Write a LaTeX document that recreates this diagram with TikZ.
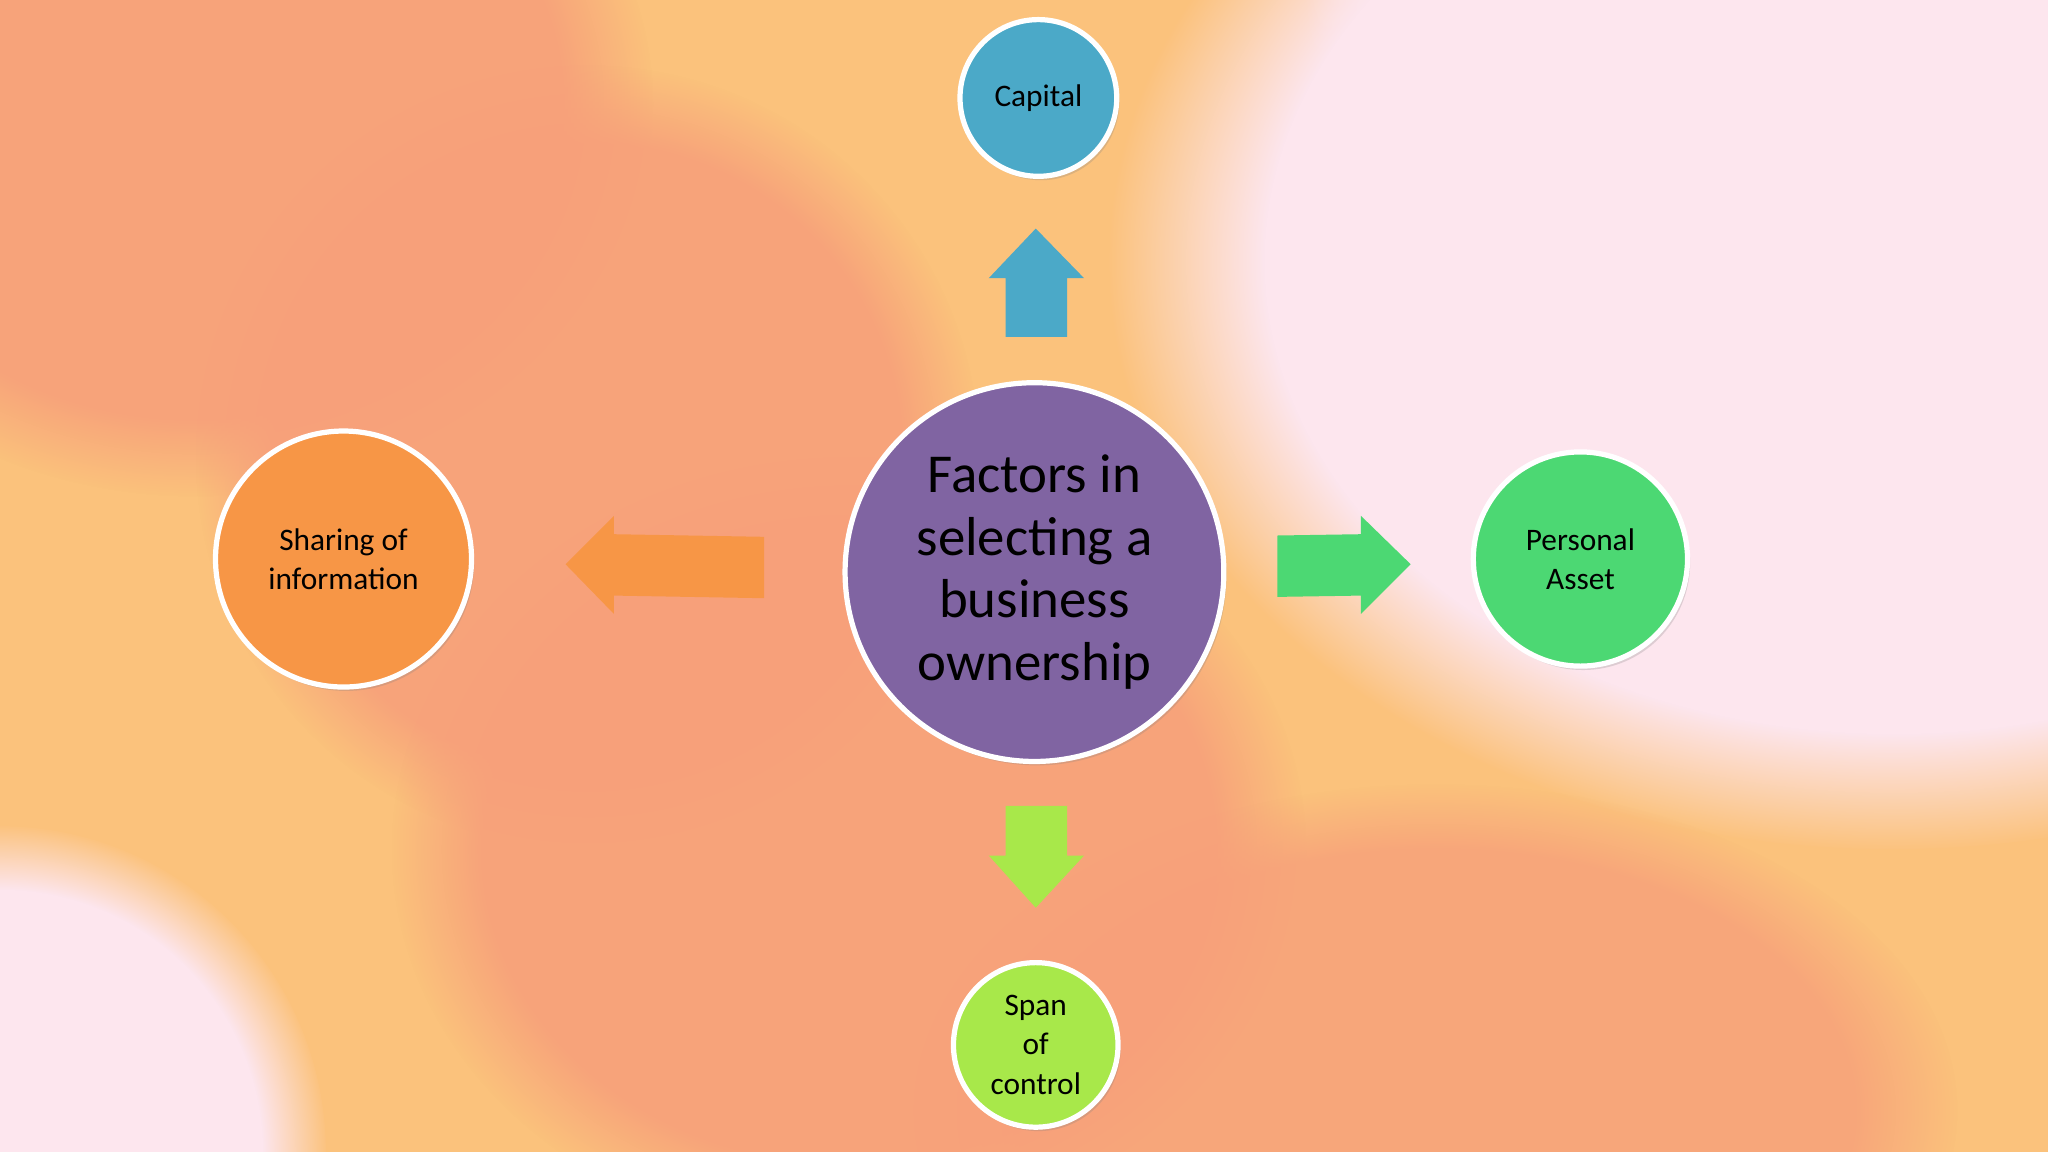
\documentclass[tikz,border=0pt]{standalone}
\usepackage{fontspec}
\setmainfont{Carlito}
\usetikzlibrary{shadows,fadings}
\definecolor{cblue}{HTML}{4BA9C8}
\definecolor{cpurple}{HTML}{8064A2}
\definecolor{corange}{HTML}{F79646}
\definecolor{cgreen}{HTML}{4CD873}
\definecolor{clime}{HTML}{A8E84A}
\definecolor{bgA}{HTML}{F7A07A}
\definecolor{bgB}{HTML}{FBC27C}
\definecolor{bgC}{HTML}{FDE6EE}
\tikzset{
  bubble/.style={circle,draw=white,line width=4pt,text=black,align=center,inner sep=0pt,
    drop shadow={shadow xshift=2pt,shadow yshift=-3pt,opacity=0.25}},
  small/.style={font=\fontsize{24}{30}\selectfont},
  glow/.style={path fading=circle with fuzzy edge 20 percent}
}
\begin{document}
\begin{tikzpicture}[x=1pt,y=-1pt]
\useasboundingbox (0,0) rectangle (1568,882);
\fill[bgB] (0,0) rectangle (1568,882);
\begin{scope}
\clip (0,0) rectangle (1568,882);
\fill[bgA,glow,opacity=0.9] (150,80) ellipse [x radius=350,y radius=300];
\fill[bgA,glow,opacity=0.9] (450,350) ellipse [x radius=300,y radius=300];
\fill[bgA,glow,opacity=0.9] (650,650) ellipse [x radius=350,y radius=300];
\fill[bgA,glow,opacity=0.8] (1100,850) ellipse [x radius=400,y radius=250];
\fill[bgC,glow] (1450,200) ellipse [x radius=600,y radius=450];
\fill[bgC,glow] (1400,0) ellipse [x radius=400,y radius=300];
\fill[bgC,glow] (0,882) ellipse [x radius=250,y radius=250];
\end{scope}

\node[bubble,fill=cpurple,minimum size=290pt,font=\fontsize{42}{48}\selectfont] (c) at (792,438) {Factors in\\selecting a\\business\\ownership};
\node[bubble,fill=cblue,minimum size=120pt,small] (cap) at (795,75) {Capital};
\node[bubble,fill=corange,minimum size=196pt,small] (sh) at (263,428) {Sharing of\\information};
\node[bubble,fill=cgreen,minimum size=164pt,small] (pa) at (1210,428) {Personal\\Asset};
\node[bubble,fill=clime,minimum size=126pt,small] (sp) at (793,800) {Span\\of\\control};

\coordinate (uptip) at (793,175);
\coordinate (dntip) at (793,695);
\coordinate (lttip) at (433,432);
\coordinate (rttip) at (1080,432);
\fill[cblue] (uptip) -- (830,213) -- (817,213) -- (817,258) -- (770,258) -- (770,213) -- (757,213) -- cycle;
\fill[clime] (dntip) -- (830,655) -- (817,655) -- (817,617) -- (770,617) -- (770,655) -- (757,655) -- cycle;
\fill[corange] (lttip) -- (470,395) -- (470,409) -- (585,411) -- (585,458) -- (470,456) -- (470,470) -- cycle;
\fill[cgreen] (rttip) -- (1042,395) -- (1042,409) -- (978,410) -- (978,457) -- (1042,456) -- (1042,470) -- cycle;
\end{tikzpicture}
\end{document}
